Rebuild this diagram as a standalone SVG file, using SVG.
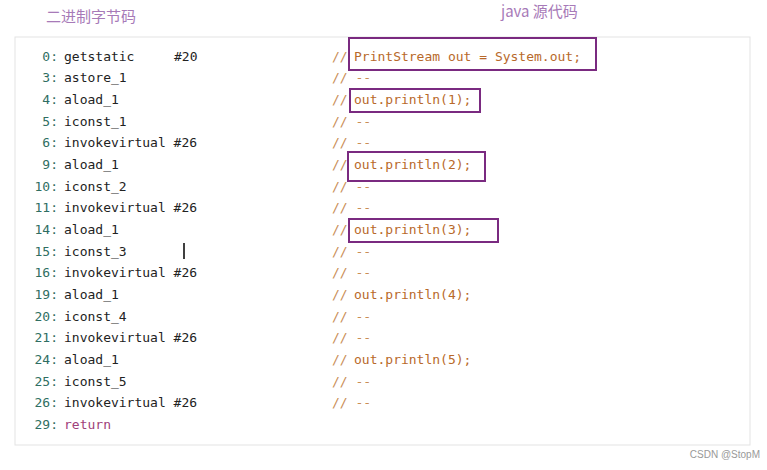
<svg xmlns="http://www.w3.org/2000/svg" width="767" height="470" viewBox="0 0 767 470">
<style>
text{font-family:"DejaVu Sans Mono","Liberation Mono",monospace;font-size:13px}
.n{fill:#2f6e62;text-anchor:end}
.i{fill:#222}
.c{fill:#c98d55}
.s{fill:#b8692a}
.h{font-family:"Noto Sans CJK SC",sans-serif;font-size:15px;fill:#a77ab8}
.b{fill:none;stroke:#7a2a80;stroke-width:2}
</style>
<rect width="767" height="470" fill="#fff"/>
<text class="h" x="46" y="22">二进制字节码</text>
<text class="h" x="501" y="17">java 源代码</text>
<rect x="15" y="37" width="735" height="408" fill="#fff" stroke="#e3e3e3"/>
<g id="code">
<text class="n" x="58" y="61">0:</text><text class="i" x="64" y="61">getstatic</text><text class="i" x="174" y="61">#20</text><text class="c" x="332" y="61">//</text><text class="s" x="354" y="61">PrintStream out = System.out;</text>
<text class="n" x="58" y="82">3:</text><text class="i" x="64" y="82">astore_1</text><text class="c" x="332" y="82">// --</text>
<text class="n" x="58" y="104">4:</text><text class="i" x="64" y="104">aload_1</text><text class="c" x="332" y="104">//</text><text class="s" x="354" y="104">out.println(1);</text>
<text class="n" x="58" y="126">5:</text><text class="i" x="64" y="126">iconst_1</text><text class="c" x="332" y="126">// --</text>
<text class="n" x="58" y="147">6:</text><text class="i" x="64" y="147">invokevirtual #26</text><text class="c" x="332" y="147">// --</text>
<text class="n" x="58" y="169">9:</text><text class="i" x="64" y="169">aload_1</text><text class="c" x="332" y="169">//</text><text class="s" x="354" y="169">out.println(2);</text>
<text class="n" x="58" y="191">10:</text><text class="i" x="64" y="191">iconst_2</text><text class="c" x="332" y="191">// --</text>
<text class="n" x="58" y="212">11:</text><text class="i" x="64" y="212">invokevirtual #26</text><text class="c" x="332" y="212">// --</text>
<text class="n" x="58" y="234">14:</text><text class="i" x="64" y="234">aload_1</text><text class="c" x="332" y="234">//</text><text class="s" x="354" y="234">out.println(3);</text>
<text class="n" x="58" y="256">15:</text><text class="i" x="64" y="256">iconst_3</text><text class="c" x="332" y="256">// --</text>
<text class="n" x="58" y="277">16:</text><text class="i" x="64" y="277">invokevirtual #26</text><text class="c" x="332" y="277">// --</text>
<text class="n" x="58" y="299">19:</text><text class="i" x="64" y="299">aload_1</text><text class="c" x="332" y="299">//</text><text class="s" x="354" y="299">out.println(4);</text>
<text class="n" x="58" y="321">20:</text><text class="i" x="64" y="321">iconst_4</text><text class="c" x="332" y="321">// --</text>
<text class="n" x="58" y="342">21:</text><text class="i" x="64" y="342">invokevirtual #26</text><text class="c" x="332" y="342">// --</text>
<text class="n" x="58" y="364">24:</text><text class="i" x="64" y="364">aload_1</text><text class="c" x="332" y="364">//</text><text class="s" x="354" y="364">out.println(5);</text>
<text class="n" x="58" y="386">25:</text><text class="i" x="64" y="386">iconst_5</text><text class="c" x="332" y="386">// --</text>
<text class="n" x="58" y="407">26:</text><text class="i" x="64" y="407">invokevirtual #26</text><text class="c" x="332" y="407">// --</text>
<text class="n" x="58" y="429">29:</text><text x="64" y="429" fill="#a0407a">return</text>
</g>
<g id="boxes">
<rect class="b" x="349" y="38" width="247" height="32"/>
<rect class="b" x="350" y="89" width="130" height="23"/>
<rect class="b" x="348" y="152" width="137" height="29"/>
<rect class="b" x="349" y="219" width="149" height="23"/>
</g>
<line x1="184" y1="243" x2="184" y2="259" stroke="#000" stroke-width="1.5"/>
<text x="760" y="458" text-anchor="end" style="font-family:'Liberation Sans',sans-serif;font-size:10px" fill="#999">CSDN @StopM</text>
</svg>
